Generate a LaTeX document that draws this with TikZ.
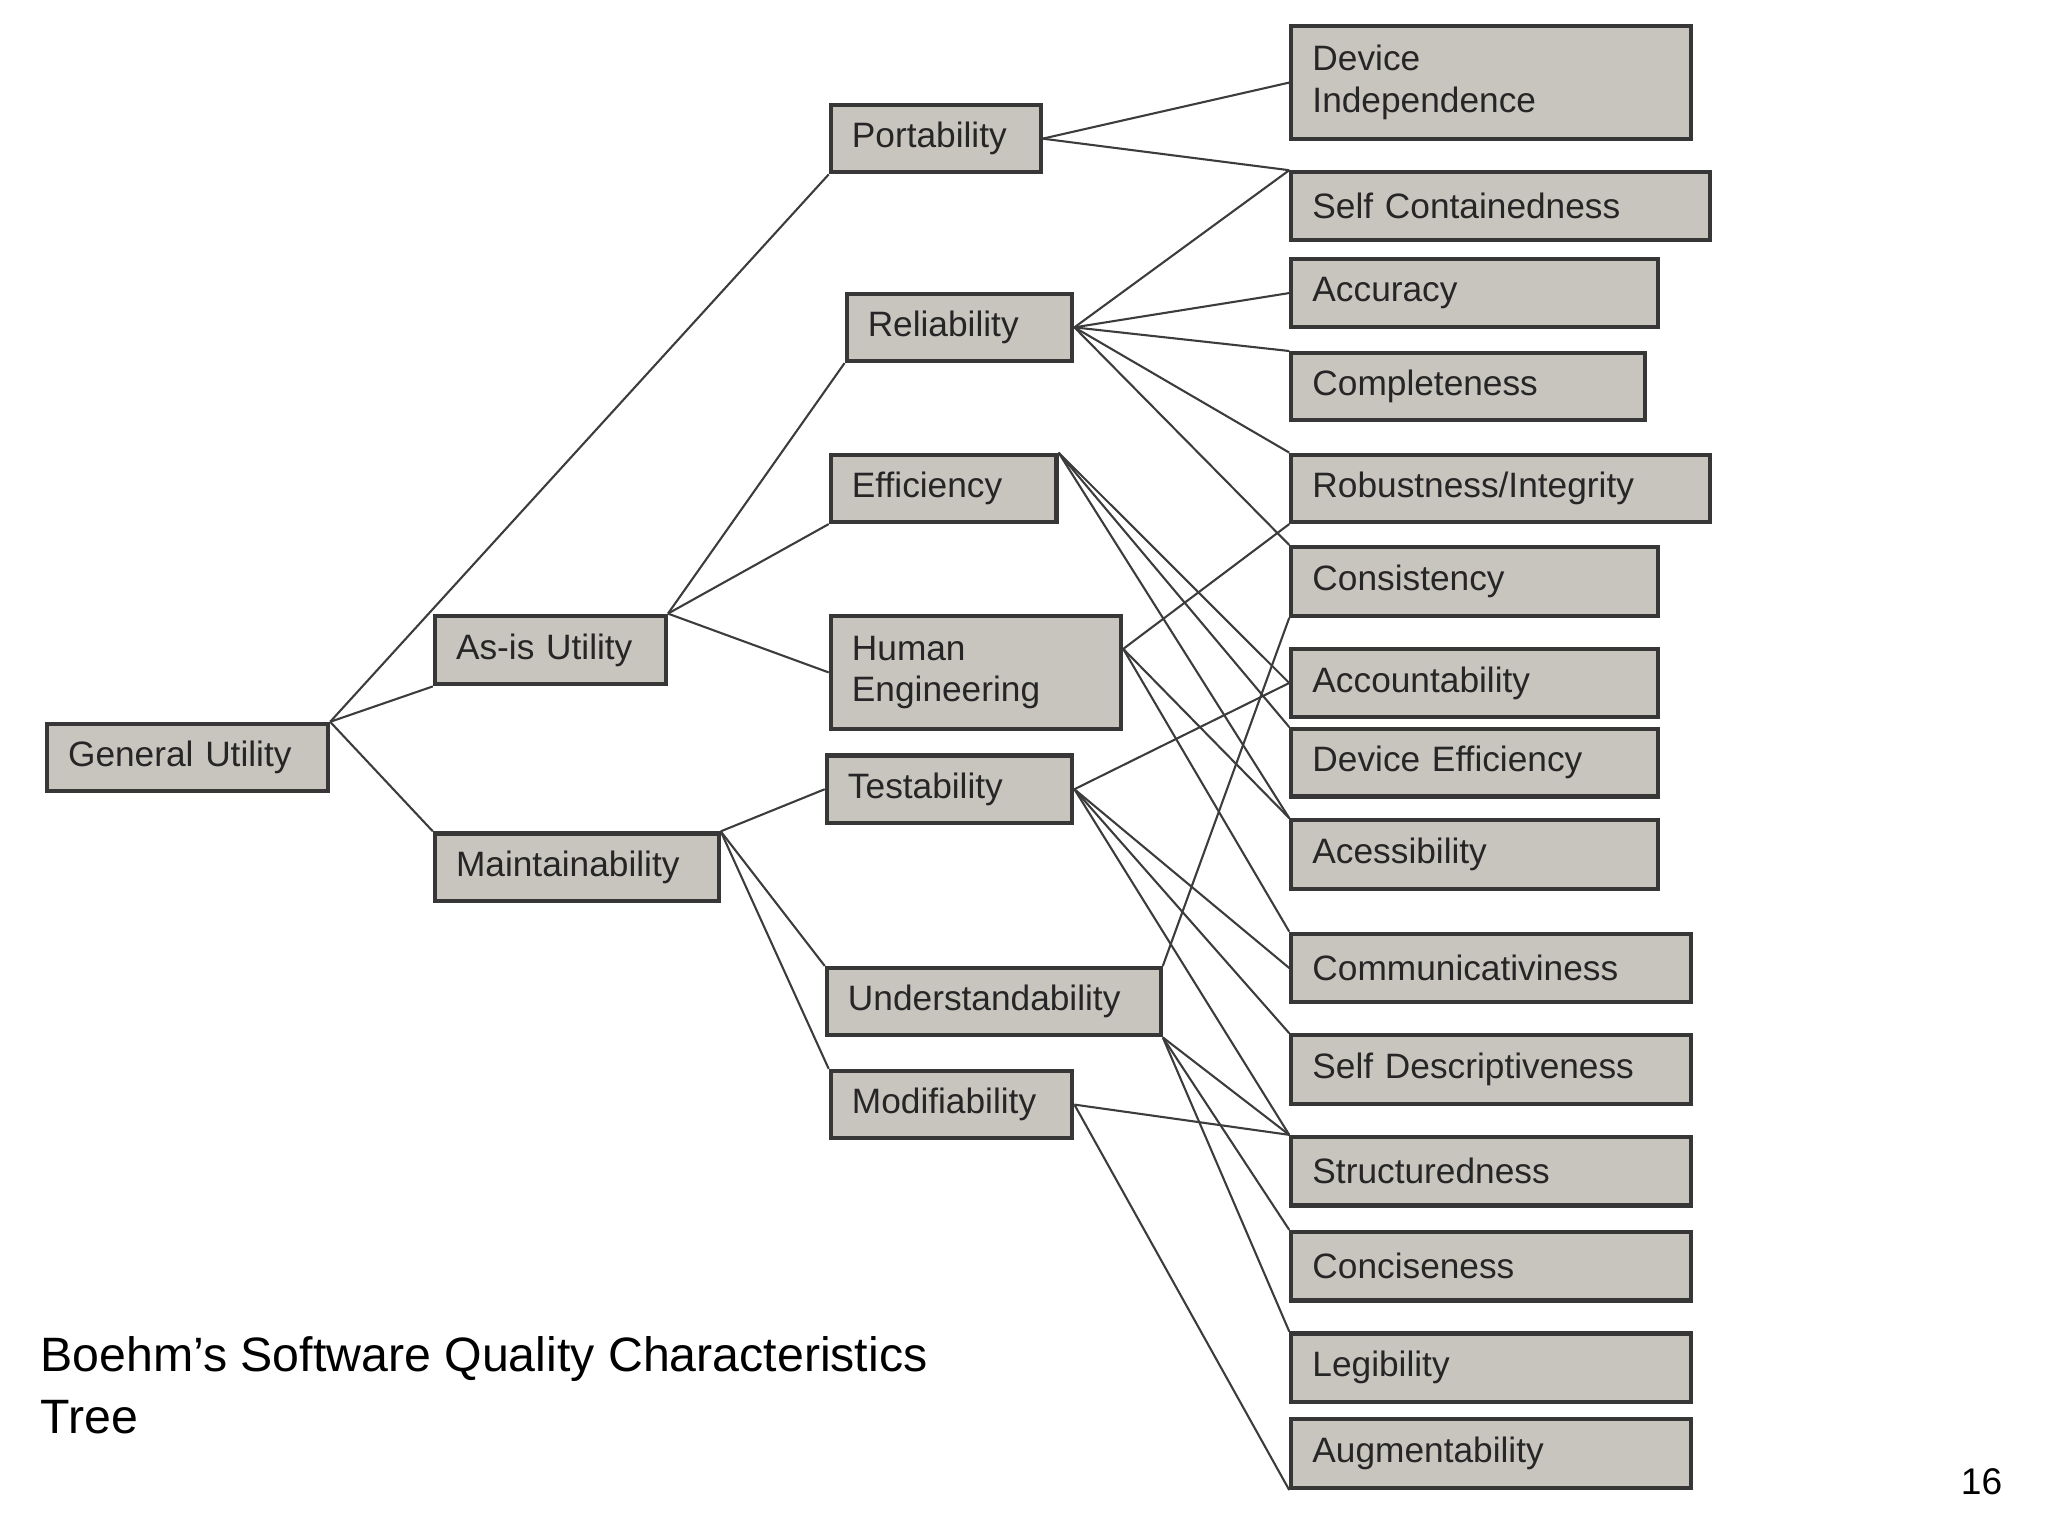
\documentclass[tikz,border=0pt]{standalone}
\usepackage{fontspec}
\setmainfont{Liberation Sans}
\usetikzlibrary{calc}
\definecolor{boxfill}{RGB}{200,197,191}
\definecolor{boxdraw}{RGB}{55,55,55}
\definecolor{linecol}{RGB}{60,60,60}
\tikzset{
  qbox/.style={draw=boxdraw, line width=0.9pt, fill=boxfill, anchor=north west,
    inner xsep=0.16cm, inner ysep=0pt, align=left, font=\fontsize{7.6}{9}\selectfont, text=black!85},
  conn/.style={draw=linecol, line width=0.45pt}
}
\newcommand{\qb}[6]{\node[qbox, text width={(#4-#2-32)*0.01cm}, minimum height={(#5-#3)*0.01cm}] (#1) at (#2,#3) {#6};}
\begin{document}
\begin{tikzpicture}[x=0.01cm,y=-0.01cm]
\useasboundingbox (0,0) rectangle (1552,1164);
\qb{gu}{34}{547}{247}{598}{General Utility}
\qb{as}{328}{465}{503}{517}{As-is Utility}
\qb{mt}{328}{630}{543}{681}{Maintainability}
\qb{port}{628}{78}{787}{129}{Portability}
\qb{rel}{640}{221}{811}{272}{Reliability}
\qb{eff}{628}{343}{799}{394}{Efficiency}
\qb{he}{628}{465}{848}{551}{Human\\Engineering}
\qb{test}{625}{571}{811}{622}{Testability}
\qb{und}{625}{732}{878}{783}{Understandability}
\qb{mod}{628}{810}{811}{861}{Modifiability}
\qb{di}{977}{18}{1280}{104}{Device\\Independence}
\qb{sc}{977}{129}{1294}{180}{Self Containedness}
\qb{acc}{977}{195}{1255}{246}{Accuracy}
\qb{comp}{977}{266}{1245}{317}{Completeness}
\qb{rob}{977}{343}{1294}{394}{Robustness/Integrity}
\qb{cons}{977}{413}{1255}{465}{Consistency}
\qb{acct}{977}{490}{1255}{542}{Accountability}
\qb{de}{977}{551}{1255}{602}{Device Efficiency}
\qb{aces}{977}{620}{1255}{672}{Acessibility}
\qb{comm}{977}{706}{1280}{758}{Communicativiness}
\qb{sd}{977}{783}{1280}{835}{Self Descriptiveness}
\qb{str}{977}{860}{1280}{912}{Structuredness}
\qb{conc}{977}{932}{1280}{984}{Conciseness}
\qb{leg}{977}{1009}{1280}{1061}{Legibility}
\qb{aug}{977}{1074}{1280}{1126}{Augmentability}
\coordinate (hep) at ($(he.north east)!0.3!(he.south east)$);
\begin{scope}[every path/.style={conn}]
\draw (gu.north east) -- (port.south west);
\draw (gu.north east) -- (as.south west);
\draw (gu.north east) -- (mt.north west);
\draw (as.north east) -- (rel.south west);
\draw (as.north east) -- (eff.south west);
\draw (as.north east) -- (he.west);
\draw (mt.north east) -- (test.west);
\draw (mt.north east) -- (und.north west);
\draw (mt.north east) -- (mod.north west);
\draw (port.east) -- (di.west);
\draw (port.east) -- (sc.north west);
\draw (rel.east) -- (sc.north west);
\draw (rel.east) -- (acc.west);
\draw (rel.east) -- (comp.north west);
\draw (rel.east) -- (rob.north west);
\draw (rel.east) -- (cons.north west);
\draw (eff.north east) -- (acct.west);
\draw (eff.north east) -- (de.north west);
\draw (eff.north east) -- (aces.north west);
\draw (hep) -- (rob.south west);
\draw (hep) -- (aces.north west);
\draw (hep) -- (comm.north west);
\draw (test.east) -- (acct.west);
\draw (test.east) -- (comm.west);
\draw (test.east) -- (sd.north west);
\draw (test.east) -- (str.north west);
\draw (und.north east) -- (cons.south west);
\draw (und.south east) -- (str.north west);
\draw (und.south east) -- (conc.north west);
\draw (und.south east) -- (leg.north west);
\draw (mod.east) -- (str.north west);
\draw (mod.east) -- (aug.south west);
\end{scope}
\node[anchor=north west, align=left, inner sep=0pt, font=\fontsize{10.4}{13.3}\selectfont] (cap) at (30,1012) {Boehm's Software Quality Characteristics\\Tree};
\node[anchor=north east, inner sep=0pt, font=\fontsize{8}{10}\selectfont] (pg) at (1518,1112) {16};
\end{tikzpicture}
\end{document}
